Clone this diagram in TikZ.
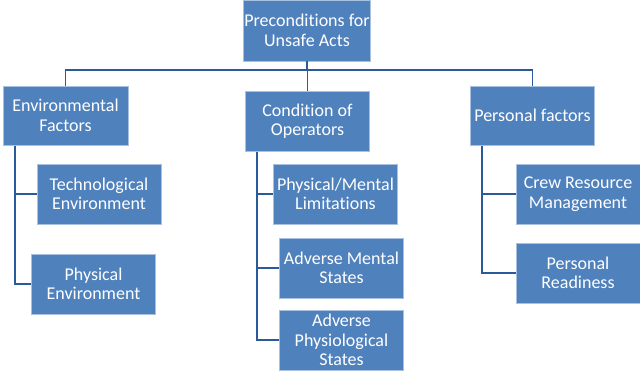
\documentclass[tikz,border=0pt]{standalone}
\usepackage{fontspec}
\setmainfont[Ligatures=NoCommon]{Carlito}
\definecolor{boxfill}{HTML}{4F81BD}
\definecolor{boxedge}{HTML}{A9C1E0}
\definecolor{linecol}{HTML}{2C5A99}
\begin{document}
\begin{tikzpicture}[x=1pt,y=-1pt,
  box/.style={draw=boxedge,line width=0.8pt,fill=boxfill,text=white,
    minimum width=124pt,minimum height=60pt,inner sep=1pt,align=center,
    font=\fontsize{18}{19.6}\selectfont},
  conn/.style={draw=linecol,line width=1.8pt}]
\useasboundingbox (0,0) rectangle (640,372);
\node[box,minimum height=61pt] (top) at (307,30.5) {Preconditions for\\Unsafe Acts};
\node[box,minimum width=125pt,minimum height=59pt] (env) at (65.5,115.5) {Environmental\\Factors};
\node[box] (cond) at (307.5,121) {Condition of\\Operators};
\node[box,minimum height=59pt] (pers) at (532.5,115.5) {Personal factors};
\node[box] (tech) at (99,194) {Technological\\Environment};
\node[box] (physenv) at (93.5,284) {Physical\\Environment};
\node[box] (pml) at (335.5,194) {Physical/Mental\\Limitations};
\node[box] (ams) at (341.5,268) {Adverse Mental\\States};
\node[box] (aps) at (341.5,340) {Adverse\\Physiological\\States};
\node[box] (crm) at (578,194) {Crew Resource\\Management};
\node[box] (pr) at (578,273) {Personal\\Readiness};
\coordinate (bar) at (0,70);
\coordinate (et) at (15,146);
\coordinate (ct) at (257,152);
\coordinate (pt) at (482,146);
\draw[conn] (top.south) -- (top.south |- bar);
\draw[conn] (env.north) -- (env.north |- bar) -- (pers.north |- bar) -- (pers.north);
\draw[conn] (cond.north |- bar) -- (cond.north);
\draw[conn] (et) |- (tech.west);
\draw[conn] (et) |- (physenv.west);
\draw[conn] (ct) |- (pml.west);
\draw[conn] (ct) |- (ams.west);
\draw[conn] (ct) |- (aps.west);
\draw[conn] (pt) |- (crm.west);
\draw[conn] (pt) |- (pr.west);
\end{tikzpicture}
\end{document}
